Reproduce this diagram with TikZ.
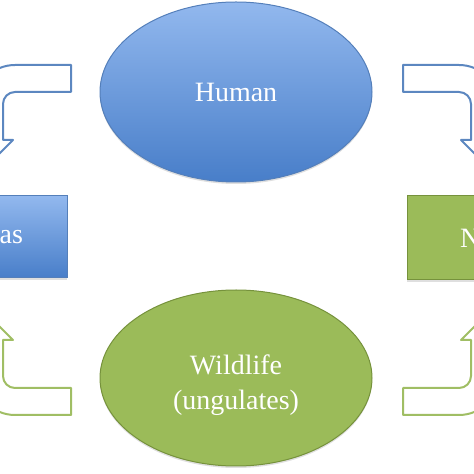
\documentclass[tikz,border=0pt]{standalone}
\usepackage{fontspec}
\setmainfont{Liberation Serif}
\usetikzlibrary{shapes.geometric,shadows}

\definecolor{bluetop}{RGB}{146,184,238}
\definecolor{bluebot}{RGB}{72,126,201}
\definecolor{blueline}{RGB}{84,127,186}
\definecolor{bluearrow}{RGB}{92,135,192}
\definecolor{greenfill}{RGB}{155,187,89}
\definecolor{greenline}{RGB}{118,146,60}
\definecolor{greenarrow}{RGB}{160,190,100}

\tikzset{
  bentarrow/.pic={
    \draw[#1, line width=2pt, fill=white, line join=round]
      (-166,175) -- (-222,175) arc[start angle=90, end angle=180, radius=40]
      -- (-262,100) -- (-272,100) -- (-248,76) -- (-224,100) -- (-234,100)
      -- (-234,136) arc[start angle=180, end angle=90, radius=12]
      -- (-166,148) -- cycle;
  },
  shade/.style={drop shadow={shadow xshift=0pt, shadow yshift=-2pt, opacity=0.25}},
  blueshape/.style={draw=blueline, line width=1pt, top color=bluetop, bottom color=bluebot, text=white, shade},
  greenshape/.style={draw=greenline, line width=1pt, fill=greenfill, text=white, shade},
  every node/.style={font=\fontsize{28}{35}\selectfont}
}

\begin{document}
\begin{tikzpicture}[x=1pt, y=1pt]
  \useasboundingbox (0,0) rectangle (474,474);

  % Arrows
  \pic at (237,234) {bentarrow=bluearrow};
  \pic[xscale=-1] at (237,234) {bentarrow=bluearrow};
  \pic[yscale=-1] at (237,234) {bentarrow=greenarrow};
  \pic[xscale=-1, yscale=-1] at (237,234) {bentarrow=greenarrow};

  % Ellipses
  \node[blueshape, ellipse, minimum width=272, minimum height=180] (human) at (236,382) {Human};
  \node[greenshape, ellipse, minimum width=272, minimum height=176] (wildlife) at (236,96)
    {\raisebox{-7pt}[\height][\depth]{\begin{tabular}{@{}c@{}}Wildlife\\(ungulates)\end{tabular}}};

  % Boxes
  \node[blueshape, minimum height=82, text width=50, inner xsep=44, align=right] (areas) at (-2,237) {as};
  \node[greenshape, minimum height=84, text width=32, inner xsep=53, align=left] (nbox) at (476,236) {N};
\end{tikzpicture}
\end{document}
